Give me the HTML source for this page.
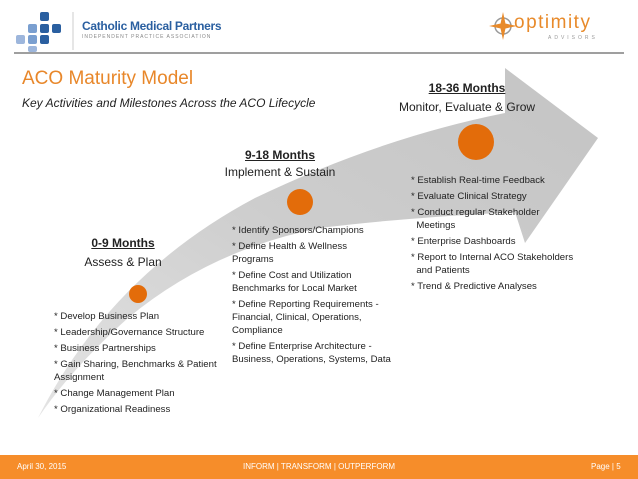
<!DOCTYPE html>
<html><head><meta charset="utf-8"><style>
body{margin:0;width:638px;height:479px;overflow:hidden;background:#fff;font-family:"Liberation Sans",sans-serif;position:relative}
.t{position:absolute;white-space:nowrap;color:#222}
.b{font-size:9.6px;line-height:13px;color:#222;position:absolute;white-space:nowrap}
.h{position:absolute;font-size:12px;font-weight:bold;text-decoration:underline;color:#222;text-align:center;transform:translateX(-50%)}
.s{position:absolute;font-size:12px;color:#222;text-align:center;transform:translateX(-50%);white-space:nowrap}
</style></head><body>
<svg width="638" height="479" style="position:absolute;left:0;top:0">
<defs><linearGradient id="g" x1="0" y1="1" x2="1" y2="0"><stop offset="0" stop-color="#e4e4e4"/><stop offset="0.5" stop-color="#cdcdcd"/><stop offset="1" stop-color="#c4c4c4"/></linearGradient></defs>
<g>
<rect x="40" y="12" width="9" height="9" rx="2" fill="#2a5fa0"/>
<rect x="28" y="24" width="9" height="9" rx="2" fill="#7a9fd0"/><rect x="40" y="24" width="9" height="9" rx="2" fill="#2a5fa0"/><rect x="52" y="24" width="9" height="9" rx="2" fill="#2a5fa0"/>
<rect x="16" y="35" width="9" height="9" rx="2" fill="#9db6dc"/><rect x="28" y="35" width="9" height="9" rx="2" fill="#7a9fd0"/><rect x="40" y="35" width="9" height="9" rx="2" fill="#2a5fa0"/>
<rect x="28" y="46" width="9" height="6" rx="2" fill="#9db6dc"/>
<line x1="73" y1="12" x2="73" y2="50" stroke="#ccc"/></g>
<line x1="14" y1="53" x2="624" y2="53" stroke="#666" stroke-width="1.2"/>
<g>
<circle cx="503" cy="26" r="8" fill="none" stroke="#999" stroke-width="1.5"/>
<path d="M503 12 L506 26 L503 40 L500 26Z M489 26 L503 23 L517 26 L503 29Z" fill="#e88a2a"/></g>
<path d="M38 418 Q110 275 255 198 Q380 138 505 113 L505 68 L598 138 L525 243 L515 212 Q400 218 320 228 Q210 250 128 318 Q72 368 38 418Z" fill="url(#g)"/>
<circle cx="138" cy="294" r="9" fill="#e36c0a"/>
<circle cx="300" cy="202" r="13" fill="#e36c0a"/>
<circle cx="476" cy="142" r="18" fill="#e36c0a"/>
<rect x="0" y="455" width="638" height="24" fill="#f68d2a"/>
</svg>
<div class="t" style="left:82px;top:19px;font-size:12px;font-weight:bold;color:#2a5fa0;letter-spacing:-0.3px">Catholic Medical Partners</div>
<div class="t" style="left:82px;top:34px;font-size:5px;color:#888;letter-spacing:1px">INDEPENDENT PRACTICE ASSOCIATION</div>
<div class="t" style="left:514px;top:12px;font-size:19px;color:#e88a2a;letter-spacing:1.5px">optimity</div>
<div class="t" style="left:548px;top:35px;font-size:5px;color:#999;letter-spacing:3px">ADVISORS</div>
<div class="t" style="left:22px;top:68px;font-size:19px;color:#e8872a">ACO Maturity Model</div>
<div class="t" style="left:22px;top:96px;font-size:12px;font-style:italic">Key Activities and Milestones Across the ACO Lifecycle</div>

<div class="h" style="left:123px;top:236px">0-9 Months</div>
<div class="s" style="left:123px;top:255px">Assess &amp; Plan</div>
<div class="b" style="left:54px;top:309px;line-height:16px">* Develop Business Plan<br>* Leadership/Governance Structure<br>* Business Partnerships<br>* Gain Sharing, Benchmarks &amp; Patient<br><span style="position:relative;top:-3px">Assignment</span><br><span style="position:relative;top:-3px">* Change Management Plan</span><br><span style="position:relative;top:-3px">* Organizational Readiness</span></div>

<div class="h" style="left:280px;top:148px">9-18 Months</div>
<div class="s" style="left:280px;top:165px">Implement &amp; Sustain</div>
<div class="b" style="left:232px;top:224px">* Identify Sponsors/Champions<div style="height:3px"></div>* Define Health &amp; Wellness<br>Programs<div style="height:3px"></div>* Define Cost and Utilization<br>Benchmarks for Local Market<div style="height:3px"></div>* Define Reporting Requirements -<br>Financial, Clinical, Operations,<br>Compliance<div style="height:3px"></div>* Define Enterprise Architecture -<br>Business, Operations, Systems, Data</div>

<div class="h" style="left:467px;top:81px">18-36 Months</div>
<div class="s" style="left:467px;top:100px">Monitor, Evaluate &amp; Grow</div>
<div class="b" style="left:411px;top:174px">* Establish Real-time Feedback<div style="height:3px"></div>* Evaluate Clinical Strategy<div style="height:3px"></div>* Conduct regular Stakeholder<br>&nbsp;&nbsp;Meetings<div style="height:3px"></div>* Enterprise Dashboards<div style="height:3px"></div>* Report to Internal ACO Stakeholders<br>&nbsp;&nbsp;and Patients<div style="height:3px"></div>* Trend &amp; Predictive Analyses</div>

<div class="t" style="left:17px;top:462px;font-size:8px;color:#fff">April 30, 2015</div>
<div class="t" style="left:243px;top:462px;font-size:8px;color:#fff">INFORM | TRANSFORM | OUTPERFORM</div>
<div class="t" style="left:591px;top:462px;font-size:8px;color:#fff">Page | 5</div>
</body></html>
